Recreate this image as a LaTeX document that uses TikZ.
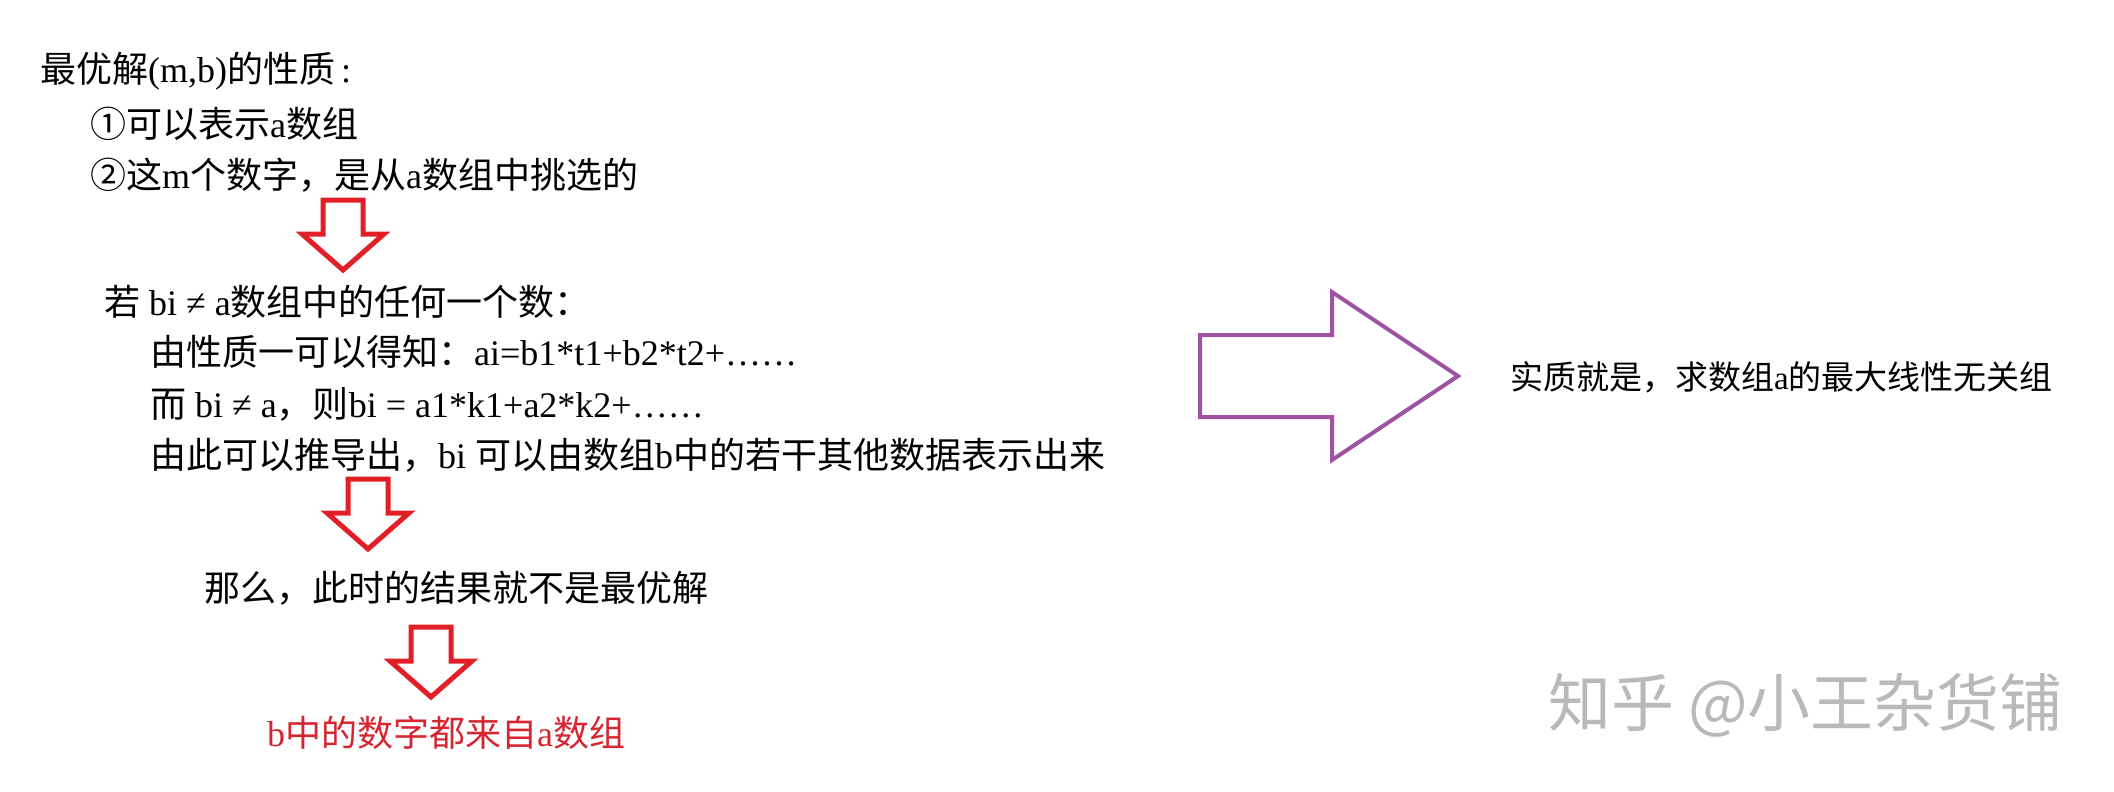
\documentclass[tikz,border=0pt]{standalone}
\usepackage{fontspec}
\setmainfont{Noto Sans CJK SC}
\newfontfamily\latfont{Liberation Serif}
\definecolor{arrowred}{RGB}{226,30,38}
\definecolor{arrowpurple}{RGB}{158,82,162}
\definecolor{textred}{RGB}{214,36,48}

\begin{document}
\begin{tikzpicture}[x=1pt, y=-1pt,
    every node/.style={anchor=west, inner sep=0pt, font=\fontsize{36}{40}\selectfont},
    redblock/.style={draw=arrowred, line width=5pt},
    purpleblock/.style={draw=arrowpurple, line width=4pt},
    downblock/.pic={\draw[redblock] (-20,0) -- (20,0) -- (20,34) -- (41,34) -- (0,70) -- (-41,34) -- (-20,34) -- cycle;}]
  \useasboundingbox (0,0) rectangle (2114,792);
  \node (t0) at (40,71) {最优解{\latfont (m,b)}的性质{\latfont\,:}};
  \node (t1) at (90,124) {①可以表示{\latfont a}数组};
  \node (t2) at (90,175) {②这{\latfont m}个数字，是从{\latfont a}数组中挑选的};
  \pic at (343,200) {downblock};
  \node (c0) at (104,302) {若{\latfont\ bi ≠ a}数组中的任何一个数：};
  \node (c1) at (150,352) {由性质一可以得知：{\latfont ai=b1*t1+b2*t2+……}};
  \node (c2) at (150,404) {而{\latfont\ bi ≠ a}，则{\latfont bi = a1*k1+a2*k2+……}};
  \node (c3) at (150,455) {由此可以推导出，{\latfont bi }可以由数组{\latfont b}中的若干其他数据表示出来};
  \pic at (368,479) {downblock};
  \node (r0) at (204,588) {那么，此时的结果就不是最优解};
  \pic at (431,627) {downblock};
  \node[text=textred] (r1) at (267,733) {{\latfont b}中的数字都来自{\latfont a}数组};
  \draw[purpleblock] (1200,335) -- (1332,335) -- (1332,292) -- (1458,376) -- (1332,460) -- (1332,417) -- (1200,417) -- cycle;
  \node[font=\fontsize{33}{38}\selectfont] (s0) at (1510,377) {实质就是，求数组{\latfont a}的最大线性无关组};
  \node[text=gray!55, font=\fontsize{63}{66}\selectfont] (wm) at (1548,705) {知乎 @小王杂货铺};
\end{tikzpicture}
\end{document}
